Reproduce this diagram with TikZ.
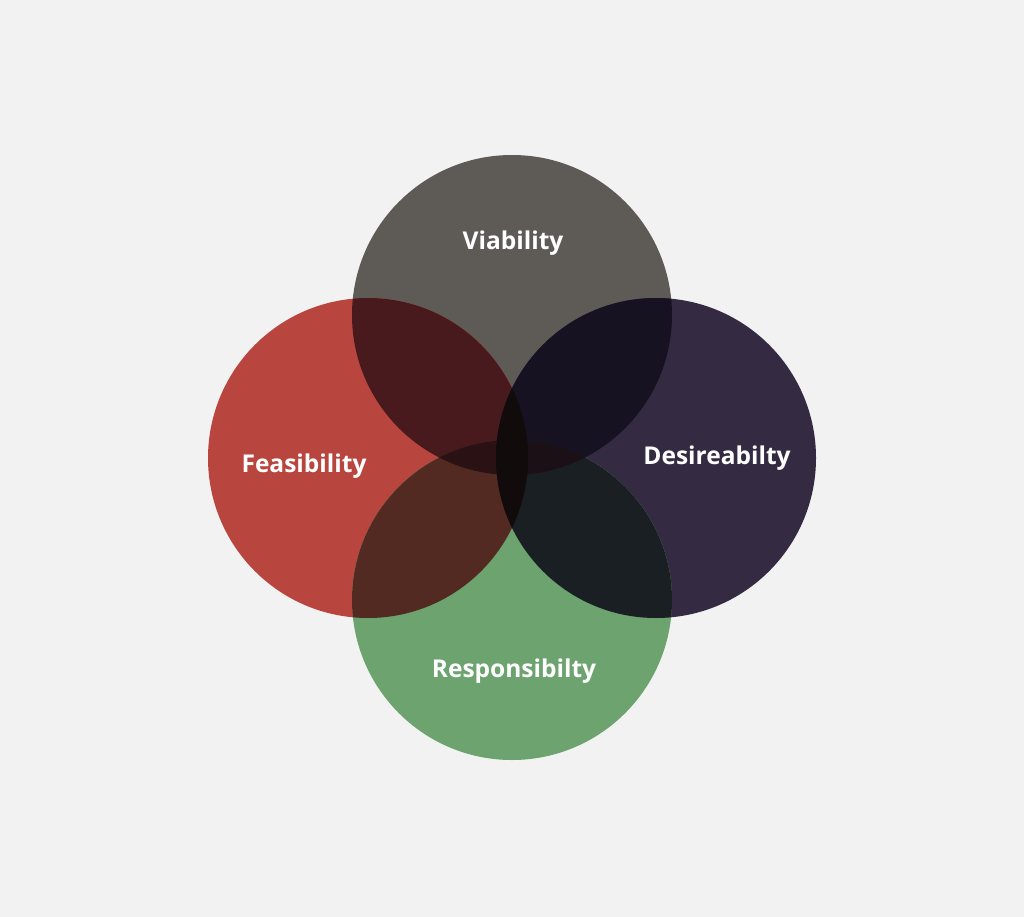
\documentclass[tikz,border=0pt]{standalone}
\usepackage{fontspec}
\setmainfont{Open Sans}
\definecolor{bg}{HTML}{F2F2F2}
\definecolor{cV}{HTML}{5E5A56}
\definecolor{cF}{HTML}{B9463E}
\definecolor{cD}{HTML}{342A42}
\definecolor{cR}{HTML}{6CA36F}
\definecolor{cVF}{HTML}{481A1D}
\definecolor{cVD}{HTML}{161222}
\definecolor{cFR}{HTML}{522A21}
\definecolor{cDR}{HTML}{191F23}
\definecolor{cVRF}{HTML}{2A1214}
\definecolor{cVRD}{HTML}{1A1016}
\definecolor{cFD}{HTML}{110B0B}
\tikzset{lbl/.style={text=white,font=\fontsize{24.5}{29}\selectfont\bfseries,inner sep=0pt}}
\begin{document}
\begin{tikzpicture}[x=1pt,y=-1pt]
\fill[bg] (0,0) rectangle (1024,917);
\useasboundingbox (0,0) rectangle (1024,917);
\def\r{160}
\coordinate (V) at (512,315);
\coordinate (F) at (368,458);
\coordinate (D) at (656,458);
\coordinate (R) at (512,600);
% single circles
\fill[cV] (V) circle (\r);
\fill[cF] (F) circle (\r);
\fill[cD] (D) circle (\r);
\fill[cR] (R) circle (\r);
% pairwise overlaps
\begin{scope}\clip (V) circle (\r); \fill[cVF] (F) circle (\r); \fill[cVD] (D) circle (\r); \end{scope}
\begin{scope}\clip (R) circle (\r); \fill[cFR] (F) circle (\r); \fill[cDR] (D) circle (\r); \end{scope}
% triple regions in V and R lens
\begin{scope}\clip (V) circle (\r); \clip (R) circle (\r);
  \fill[cVRF] (F) circle (\r); \fill[cVRD] (D) circle (\r); \end{scope}
% F and D lens
\begin{scope}\clip (F) circle (\r); \fill[cFD] (D) circle (\r); \end{scope}
% labels
\node[lbl] (tV) at (513,243) {Viability};
\node[lbl] (tF) at (304,466) {Feasibility};
\node[lbl] (tD) at (717,458) {Desireabilty};
\node[lbl] (tR) at (514,671) {Responsibilty};
\end{tikzpicture}
\end{document}
